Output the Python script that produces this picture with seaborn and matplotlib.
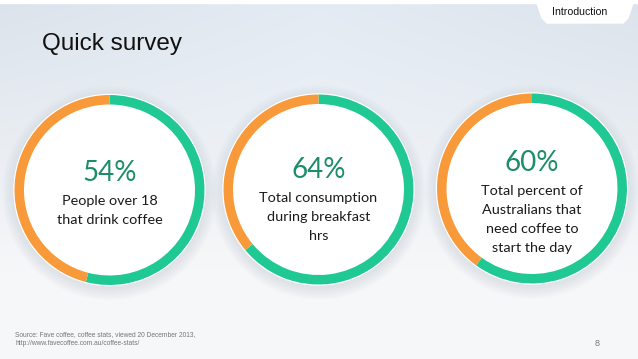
import numpy as np
import matplotlib
matplotlib.use("Agg")
import matplotlib.pyplot as plt
from matplotlib.patches import Circle, Polygon
import seaborn as sns

# Data
percentages = [54, 64, 60]
labels = ["People over 18\nthat drink coffee",
          "Total consumption\nduring breakfast\nhrs",
          "Total percent of\nAustralians that\nneed coffee to\nstart the day"]
title = "Quick survey"
section = "Introduction"
source = ("Source: Fave coffee, coffee stats, viewed 20 December 2013,\n"
          "http://www.favecoffee.com.au/coffee-stats/")
page_no = "8"

sns.set_theme(style="white")
plt.rcParams['font.family'] = ['Liberation Sans', 'DejaVu Sans']

green = "#20c993"
orange = "#f8993a"
pct_color = "#1d8d69"

W, H = 638, 359
fig = plt.figure(figsize=(W / 100, H / 100), dpi=100)
ax = fig.add_axes([0, 0, 1, 1])

# background gradient
yy = np.linspace(0, 1, 200)[:, None]
xx = np.linspace(0, 1, 300)[None, :]
top = np.array([0.86, 0.89, 0.925])
bot = np.array([0.965, 0.97, 0.975])
t = np.clip(yy * 1.3, 0, 1)
grad = top * (1 - t[..., None]) + bot * t[..., None]
grad = grad + 0.03 * (1 - np.abs(xx - 0.5) * 2)[..., None] * (1 - t[..., None])
grad = np.broadcast_to(grad, (200, 300, 3))
ax.imshow(np.clip(grad, 0, 1), extent=[0, W, 0, H], origin="upper",
          aspect="auto", zorder=0)
ax.add_patch(plt.Rectangle((0, H - 3), W, 3, color="white", zorder=1))

centers = [(109.5, 190), (318.5, 189.5), (532, 188.5)]
radius = 95
ring = 9.5

for (cx, cy), pct, lab in zip(centers, percentages, labels):
    y = H - cy
    # soft shadow
    for k in range(8):
        ax.add_patch(Circle((cx, y - 3), radius + 1 + k * 1.6,
                            color="#9aa3ad", alpha=0.028, lw=0, zorder=2))
    ax.add_patch(Circle((cx, y), radius + 1.2, color="white", lw=0, zorder=3))
    wedges, _ = ax.pie([pct, 100 - pct], colors=[green, orange],
                       startangle=90, counterclock=False,
                       center=(cx, y), radius=radius,
                       wedgeprops=dict(width=ring, edgecolor="none"))
    for w in wedges:
        w.set_zorder(4)

text_kw = dict(family=["Lato", "DejaVu Sans"], ha="center", va="center", zorder=5)
# percentage + caption per circle
pct_y = [173, 170, 163]
line_y0 = [201, 198, 191]
for (cx, cy), pct, lab, py, ly in zip(centers, percentages, labels, pct_y, line_y0):
    ax.text(cx, H - py, f"{pct}%", fontsize=20, color=pct_color, **text_kw)
    for i, line in enumerate(lab.split("\n")):
        ax.text(cx, H - (ly + i * 19), line, fontsize=10.4, color="#1a1a1a",
                **text_kw)

ax.text(42, H - 44, title, fontsize=17.5, color="#111111", ha="left",
        va="center", zorder=5)

# section tab
tab = Polygon([(536, H), (542, H - 18), (547, H - 23), (623, H - 23),
               (628, H - 18), (634, H)], closed=True, color="white", zorder=5)
ax.add_patch(tab)
ax.text(580, H - 12, section, fontsize=7.6, color="#111111", ha="center",
        va="center", zorder=6)

ax.text(15, H - 339, source, fontsize=4.8, color="#777777", ha="left",
        va="center", linespacing=1.3, zorder=5)
ax.text(597, H - 343, page_no, fontsize=6.5, color="#777777", ha="center",
        va="center", zorder=5)

ax.set_xlim(0, W)
ax.set_ylim(0, H)
ax.set_aspect("auto")
ax.axis("off")

fig.savefig("out.png", dpi=100)
